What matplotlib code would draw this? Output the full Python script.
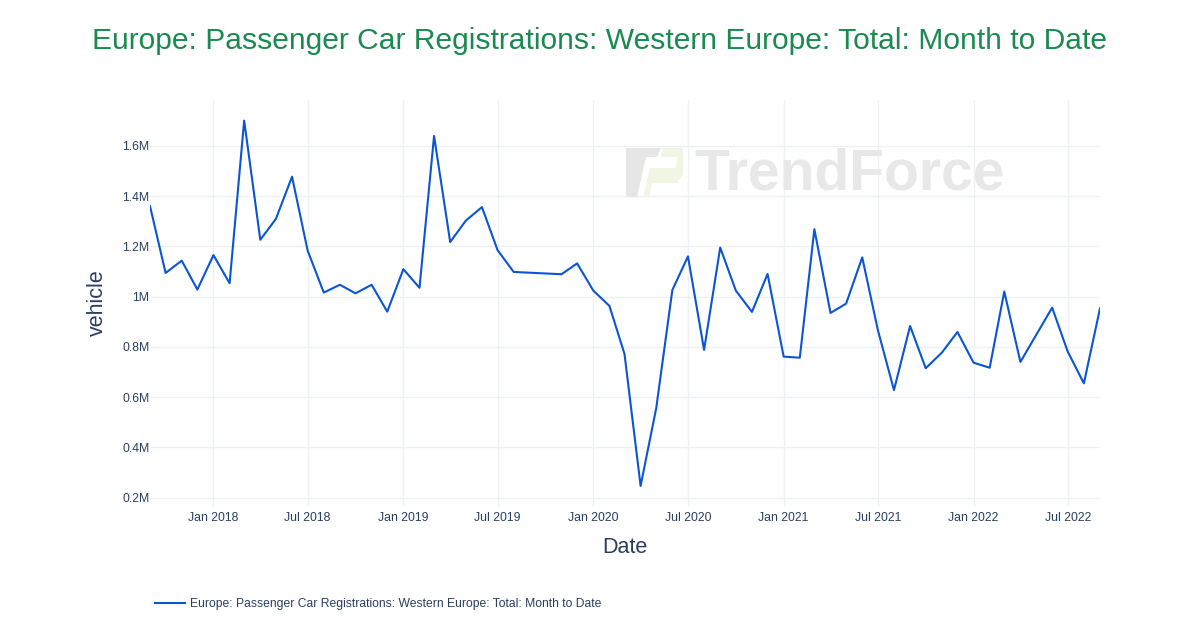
import matplotlib
matplotlib.use("Agg")
import matplotlib.pyplot as plt
import matplotlib.dates as mdates
from matplotlib.patches import Polygon
from matplotlib.ticker import FuncFormatter, MultipleLocator
import pandas as pd

plt.rcParams['font.family'] = ['Liberation Sans', 'DejaVu Sans']

dates = [
    "2017-09", "2017-10", "2017-11", "2017-12",
    "2018-01", "2018-02", "2018-03", "2018-04", "2018-05", "2018-06",
    "2018-07", "2018-08", "2018-09", "2018-10", "2018-11", "2018-12",
    "2019-01", "2019-02", "2019-03", "2019-04", "2019-05", "2019-06",
    "2019-07", "2019-08", "2019-11", "2019-12",
    "2020-01", "2020-02", "2020-03", "2020-04", "2020-05", "2020-06",
    "2020-07", "2020-08", "2020-09", "2020-10", "2020-11", "2020-12",
    "2021-01", "2021-02", "2021-03", "2021-04", "2021-05", "2021-06",
    "2021-07", "2021-08", "2021-09", "2021-10", "2021-11", "2021-12",
    "2022-01", "2022-02", "2022-03", "2022-04", "2022-06",
    "2022-07", "2022-08", "2022-09",
]
values = [
    1.360, 1.094, 1.143, 1.028,
    1.165, 1.053, 1.700, 1.226, 1.309, 1.477,
    1.183, 1.016, 1.047, 1.013, 1.047, 0.940,
    1.109, 1.035, 1.639, 1.217, 1.302, 1.356,
    1.185, 1.098, 1.089, 1.132,
    1.024, 0.963, 0.772, 0.247, 0.556, 1.026,
    1.160, 0.788, 1.195, 1.024, 0.939, 1.090,
    0.761, 0.757, 1.268, 0.935, 0.972, 1.156,
    0.867, 0.628, 0.883, 0.715, 0.777, 0.859,
    0.737, 0.717, 1.020, 0.740, 0.956,
    0.781, 0.655, 0.953,
]
values = [v * 1e6 for v in values]
x = pd.to_datetime(dates)

series_name = "Europe: Passenger Car Registrations: Western Europe: Total: Month to Date"
title = "Europe: Passenger Car Registrations: Western Europe: Total: Month to Date"

W, H = 1200, 630
fig = plt.figure(figsize=(W / 100, H / 100), dpi=100)
ax = fig.add_axes([150 / W, 1 - 506 / H, 950 / W, 406 / H])

# Watermark (TrendForce)
def px(xp, yp):
    return (xp / W, 1 - yp / H)

gray_poly = [px(626, 148), px(661, 148), px(657, 157), px(646, 157), px(637, 197), px(626, 197)]
fig.patches.append(Polygon(gray_poly, closed=True, transform=fig.transFigure,
                           facecolor="#e6e6e6", edgecolor="none", zorder=0))
green_poly = [px(663, 148), px(683, 148), px(683, 174), px(677, 183),
              px(652, 183), px(649, 197), px(643, 197), px(650, 168),
              px(676, 168), px(677, 157), px(661, 157)]
fig.patches.append(Polygon(green_poly, closed=True, transform=fig.transFigure,
                           facecolor="#f1f5e4", edgecolor="none", zorder=0))
fig.text(694 / W, 1 - 174 / H, "TrendForce", fontsize=41, fontweight="bold",
         color="#e8e8e8", ha="left", va="center", zorder=0)

ax.set_facecolor("none")
ax.plot(x, values, color="#0a55d6", linewidth=1.5, zorder=3, label=series_name)

ax.set_xlim(pd.Timestamp("2017-09-01"), pd.Timestamp("2022-09-01"))
ax.set_ylim(0.167e6, 1.782e6)

ax.xaxis.set_major_locator(mdates.MonthLocator(bymonth=[1, 7]))
ax.xaxis.set_major_formatter(mdates.DateFormatter("%b %Y"))
ax.yaxis.set_major_locator(MultipleLocator(0.2e6))

def mfmt(v, pos):
    s = f"{v / 1e6:.1f}"
    if s.endswith(".0"):
        s = s[:-2]
    return s + "M"

ax.yaxis.set_major_formatter(FuncFormatter(mfmt))

ax.grid(True, color="#eef0f3", linewidth=1.0, zorder=0)
for s in ax.spines.values():
    s.set_visible(False)
ax.tick_params(axis="both", length=0, labelsize=8.8, labelcolor="#2a3f5f")
ax.tick_params(axis="x", pad=4)
ax.tick_params(axis="y", pad=0.5)

ax.set_xlabel("Date", fontsize=15.5, color="#2a3f5f", labelpad=10)
ax.set_ylabel("vehicle", fontsize=15.5, color="#2a3f5f", labelpad=10)

fig.text(0.5, 1 - 41 / H, title, fontsize=21.6, color="#1a8a50", ha="center", va="center")

# legend
fig.add_artist(plt.Line2D([155 / W, 185 / W], [1 - 603 / H, 1 - 603 / H],
                          color="#0a55d6", linewidth=1.5, transform=fig.transFigure))
fig.text(190 / W, 1 - 604 / H, series_name, fontsize=8.75, color="#2a3f5f",
         ha="left", va="center")

fig.savefig("out.png", dpi=100, facecolor="white")
